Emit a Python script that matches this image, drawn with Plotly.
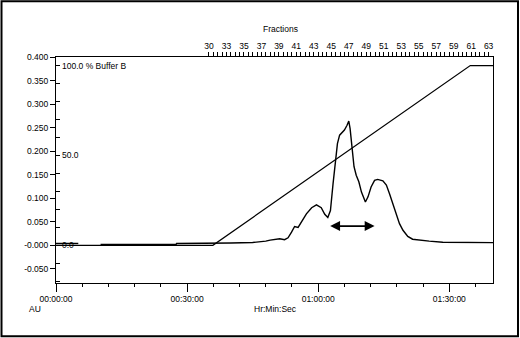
import plotly.graph_objects as go

# ---- data ----
uv_time = [0, 5.1, None, 10.2, 27.5, 27.6, 35, 40, 45, 46.7, 48, 49, 50, 51.2, 52.3, 53.1,
           53.9, 54.6, 55.4, 56.2, 57.3, 58.5, 59.6, 60.7, 61.5, 62.2, 62.8, 63.4, 64.0,
           64.4, 64.9, 65.5, 66.0, 66.6, 67.0, 67.3, 67.7, 68.2, 68.7, 69.3, 69.9, 70.4,
           70.8, 71.4, 72.1, 72.9, 73.6, 74.8, 75.6, 76.3, 77.1, 77.8, 78.6, 79.4, 80.5,
           81.6, 83.2, 85.4, 88.5, 100]
uv_au = [0.004, 0.004, None, 0.002, 0.002, 0.004, 0.004, 0.005, 0.006, 0.007, 0.009, 0.011,
         0.013, 0.014, 0.012, 0.016, 0.028, 0.040, 0.038, 0.050, 0.067, 0.080, 0.086, 0.080,
         0.066, 0.059, 0.074, 0.131, 0.188, 0.216, 0.234, 0.239, 0.245, 0.255, 0.264, 0.248,
         0.209, 0.167, 0.149, 0.135, 0.113, 0.099, 0.092, 0.103, 0.124, 0.138, 0.140, 0.137,
         0.128, 0.110, 0.089, 0.067, 0.046, 0.032, 0.019, 0.013, 0.011, 0.009, 0.0064, 0.0057]

grad_time = [0, 35.9, 94.8, 100]
grad_pct = [0, 0, 100, 100]

x_tick_vals = [0, 30, 60, 90]
x_tick_text = ["00:00:00", "00:30:00", "01:00:00", "01:30:00"]

y_tick_vals = [0.4, 0.35, 0.3, 0.25, 0.2, 0.15, 0.1, 0.05, 0.0, -0.05]
y_tick_text = ["0.400", "0.350", "0.300", "0.250", "0.200", "0.150", "0.100", "0.050",
               "-0.000", "-0.050"]

pct_tick_vals = [-20, -10, 0, 10, 20, 30, 40, 50, 60, 70, 80, 90, 100]
pct_label_vals = [0, 50, 100]
pct_label_text = ["0.0", "50.0", "100.0 % Buffer B"]

fraction_labels = [30, 33, 35, 37, 39, 41, 43, 45, 47, 49, 51, 53, 55, 57, 59, 61, 63]
fraction_times = [35, 39, 43, 47, 51, 55, 59, 63, 67, 71, 75, 79, 83, 87, 91, 95, 99]
fraction_ticks = list(range(35, 100))

arrow_start = 62.4
arrow_end = 72.9
arrow_au = 0.041

# ---- figure ----
FONT = "Liberation Sans, Arial, sans-serif"
lab = {t: str(f) for t, f in zip(fraction_times, fraction_labels)}
frac_text = [lab.get(t, "") for t in fraction_ticks]

fig = go.Figure()
fig.add_trace(go.Scatter(x=uv_time, y=uv_au, mode="lines",
                         line=dict(color="black", width=1.4), connectgaps=False,
                         showlegend=False, hoverinfo="skip"))
fig.add_trace(go.Scatter(x=grad_time, y=grad_pct, mode="lines", yaxis="y2",
                         line=dict(color="black", width=1.2),
                         showlegend=False, hoverinfo="skip"))
# dummy trace to activate top axis
fig.add_trace(go.Scatter(x=[0, 100], y=[None, None], xaxis="x2", mode="lines",
                         showlegend=False, hoverinfo="skip"))

fig.add_annotation(x=arrow_end, y=arrow_au, ax=arrow_start, ay=arrow_au,
                   xref="x", yref="y", axref="x", ayref="y", text="",
                   showarrow=True, arrowside="end+start", arrowhead=2,
                   arrowsize=1.1, arrowwidth=1.8, arrowcolor="black")

fig.update_layout(
    width=520, height=338,
    margin=dict(l=56, r=27, t=57, b=55, autoexpand=False),
    paper_bgcolor="white", plot_bgcolor="white",
    font=dict(family=FONT, size=8.5, color="black"),
    xaxis=dict(range=[0, 100], showgrid=False, zeroline=False, automargin=False,
               showline=True, linecolor="black", linewidth=1, mirror=True,
               tickmode="array", tickvals=x_tick_vals, ticktext=x_tick_text,
               ticks="outside", ticklen=8, tickcolor="black", tickwidth=1,
               minor=dict(dtick=6, tick0=0, ticks="outside", ticklen=3,
                          tickcolor="black", showgrid=False),
               tickfont=dict(size=8.5)),
    xaxis2=dict(range=[0, 100], overlaying="x", side="top", anchor="y",
                showgrid=False, zeroline=False, showline=False, automargin=False,
                tickmode="array", tickvals=fraction_ticks, ticktext=frac_text,
                ticks="outside", ticklen=4, tickcolor="black", tickwidth=1,
                tickangle=0, tickfont=dict(size=8.5)),
    yaxis=dict(range=[-0.08, 0.4], showgrid=False, zeroline=False, automargin=False,
               showline=True, linecolor="black", linewidth=1, mirror=True,
               tickmode="array", tickvals=y_tick_vals, ticktext=y_tick_text,
               ticks="outside", ticklen=5, tickcolor="black", tickwidth=1,
               tickfont=dict(size=8.5)),
    yaxis2=dict(range=[-20.98, 104.8], overlaying="y", side="left", anchor="x",
                showgrid=False, zeroline=False, showline=False, automargin=False,
                tickmode="array", tickvals=pct_tick_vals, showticklabels=False,
                ticks="inside", ticklen=4, tickcolor="black", tickwidth=1),
)

for v, t in zip(pct_label_vals, pct_label_text):
    fig.add_annotation(text=t, xref="x", yref="y2", x=0, y=v, xanchor="left",
                       yanchor="middle", xshift=4, showarrow=False, font=dict(size=8.5))

fig.add_annotation(text="AU", xref="paper", yref="paper", x=-0.049, y=-0.115,
                   xanchor="center", yanchor="middle", showarrow=False, font=dict(size=8.5))
fig.add_annotation(text="Hr:Min:Sec", xref="paper", yref="paper", x=0.502, y=-0.115,
                   xanchor="center", yanchor="middle", showarrow=False, font=dict(size=8.5))
fig.add_annotation(text="Fractions", xref="paper", yref="paper", x=0.513, y=1.124,
                   xanchor="center", yanchor="middle", showarrow=False, font=dict(size=8.5))

# outer frame
fig.add_shape(type="rect", xref="paper", yref="paper",
              x0=-0.1247, x1=1.0572, y0=-0.236, y1=1.247,
              line=dict(color="black", width=2), fillcolor="rgba(0,0,0,0)")

fig.write_html("out.html", config={"displayModeBar": False},
               post_script="document.body.style.margin='0';document.body.style.padding='0';")
